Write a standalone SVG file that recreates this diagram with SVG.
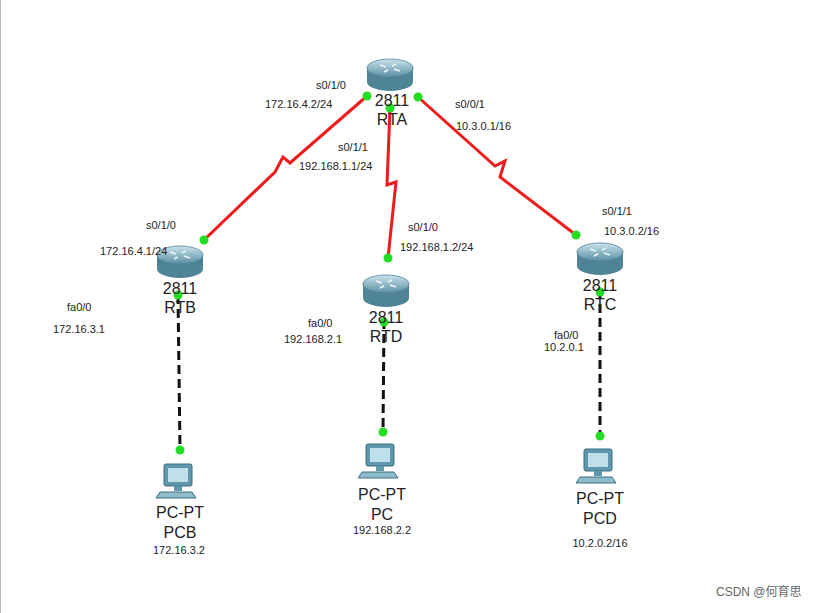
<svg xmlns="http://www.w3.org/2000/svg" width="831" height="613" viewBox="0 0 831 613">
<defs>
<linearGradient id="rg" x1="0" y1="0" x2="0" y2="1"><stop offset="0" stop-color="#c9e3ec"/><stop offset="1" stop-color="#5b8fa3"/></linearGradient>
<g id="router"><path d="M-23,0 v14 a23,9 0 0 0 46,0 v-14 z" fill="#4f8396"/><ellipse cx="0" cy="0" rx="23" ry="9" fill="url(#rg)" stroke="#4f8396" stroke-width="0.8"/><path d="M-10,-3 l6,2 M10,3 l-6,-2 M-6,4 l4,-2 M6,-4 l-4,2" stroke="#eef6f9" stroke-width="1.6"/></g>
<g id="pc"><rect x="-14" y="-16" width="28" height="22" rx="2" fill="#5f98ad" stroke="#3d6f80"/><rect x="-10" y="-12" width="20" height="14" fill="#bfe0ea"/><path d="M-18,12 h32 l4,6 h-40 z" fill="#8fbccb" stroke="#3d6f80"/><rect x="-4" y="6" width="8" height="5" fill="#5f98ad"/></g>
</defs>
<style>
.t{font-family:"Liberation Sans",Arial,sans-serif;fill:#222}
.s{font-size:11px}.n{font-size:16px}
.red{stroke:#ee1c1c;stroke-width:3;fill:none}
.dash{stroke:#111;stroke-width:3;stroke-dasharray:9,5;fill:none}
.d{fill:#22dd22}
</style>
<rect width="831" height="613" fill="#fff"/>
<line x1="0.5" y1="0" x2="0.5" y2="613" stroke="#bbb"/>
<g id="connectors">
<path class="red" d="M367,96 L290,163 L283,157 L275,172 L204,240"/>
<path class="red" d="M390,108 L387,185 L396,182 L388,258"/>
<path class="red" d="M418,97 L495,166 L505,161 L500,177 L576,235"/>
<path class="dash" d="M178,295 L180,450"/>
<path class="dash" d="M384,320 L383,432"/>
<path class="dash" d="M600,290 L600,436"/>
<circle class="d" cx="367" cy="96" r="4.5"/><circle class="d" cx="390" cy="108" r="4.5"/><circle class="d" cx="418" cy="97" r="4.5"/>
<circle class="d" cx="204" cy="240" r="4.5"/><circle class="d" cx="388" cy="258" r="4.5"/><circle class="d" cx="576" cy="235" r="4.5"/>
<circle class="d" cx="178" cy="295" r="4.5"/><circle class="d" cx="384" cy="322" r="4.5"/><circle class="d" cx="600" cy="292" r="4.5"/>
<circle class="d" cx="180" cy="450" r="4.5"/><circle class="d" cx="383" cy="432" r="4.5"/><circle class="d" cx="600" cy="436" r="4.5"/>
</g>
<g id="RTA"><use href="#router" x="390" y="68"/><text class="t n" x="392" y="106" text-anchor="middle">2811</text><text class="t n" x="392" y="125" text-anchor="middle">RTA</text></g>
<g id="RTB"><use href="#router" x="180" y="255"/><text class="t n" x="180" y="294" text-anchor="middle">2811</text><text class="t n" x="180" y="313" text-anchor="middle">RTB</text></g>
<g id="RTD"><use href="#router" x="386" y="284"/><text class="t n" x="386" y="323" text-anchor="middle">2811</text><text class="t n" x="386" y="342" text-anchor="middle">RTD</text></g>
<g id="RTC"><use href="#router" x="600" y="252"/><text class="t n" x="600" y="291" text-anchor="middle">2811</text><text class="t n" x="600" y="310" text-anchor="middle">RTC</text></g>
<g id="PCB"><use href="#pc" x="178" y="480"/><text class="t n" x="180" y="518" text-anchor="middle">PC-PT</text><text class="t n" x="180" y="538" text-anchor="middle">PCB</text><text class="t s" x="179" y="554" text-anchor="middle">172.16.3.2</text></g>
<g id="PC"><use href="#pc" x="380" y="460"/><text class="t n" x="382" y="500" text-anchor="middle">PC-PT</text><text class="t n" x="382" y="520" text-anchor="middle">PC</text><text class="t s" x="382" y="534" text-anchor="middle">192.168.2.2</text></g>
<g id="PCD"><use href="#pc" x="598" y="465"/><text class="t n" x="600" y="504" text-anchor="middle">PC-PT</text><text class="t n" x="600" y="524" text-anchor="middle">PCD</text><text class="t s" x="600" y="547" text-anchor="middle">10.2.0.2/16</text></g>
<g id="labels" class="t s">
<text x="316" y="89">s0/1/0</text><text x="265" y="108">172.16.4.2/24</text>
<text x="455" y="108">s0/0/1</text><text x="456" y="130">10.3.0.1/16</text>
<text x="338" y="151">s0/1/1</text><text x="299" y="170">192.168.1.1/24</text>
<text x="146" y="229">s0/1/0</text><text x="100" y="255">172.16.4.1/24</text>
<text x="408" y="231">s0/1/0</text><text x="400" y="251">192.168.1.2/24</text>
<text x="602" y="215">s0/1/1</text><text x="604" y="235">10.3.0.2/16</text>
<text x="67" y="311">fa0/0</text><text x="53" y="333">172.16.3.1</text>
<text x="308" y="327">fa0/0</text><text x="284" y="343">192.168.2.1</text>
<text x="554" y="339">fa0/0</text><text x="544" y="351">10.2.0.1</text>
<text x="716" y="596" font-size="12" fill="#666" font-family="'Liberation Sans','Noto Sans CJK SC',sans-serif">CSDN @何育思</text>
</g>
</svg>
